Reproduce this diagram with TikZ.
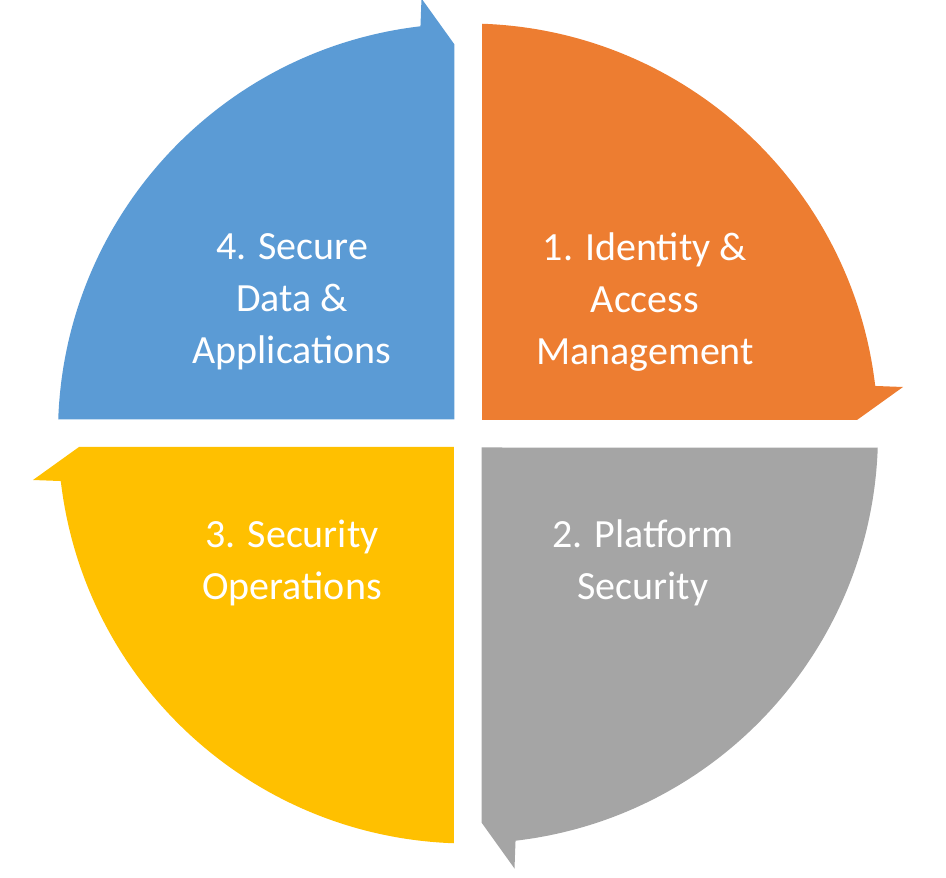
\documentclass[tikz,border=0pt]{standalone}
\usepackage{fontspec}
\setmainfont{Carlito}
\definecolor{cOrange}{HTML}{ED7D31}
\definecolor{cGrey}{HTML}{A5A5A5}
\definecolor{cYellow}{HTML}{FFC000}
\definecolor{cBlue}{HTML}{5B9BD5}
\tikzset{lbl/.style={text=white,align=center,font=\fontsize{30}{39}\selectfont}}
\newcommand{\quadarrow}[2]{%
  \begin{scope}[rotate=#1]
    \fill[#2] (14,13.5) -- (88.04:410) arc[start angle=88.04,end angle=6.66,radius=410]
      -- (435,46.5) -- (389,13.5) -- cycle;
  \end{scope}}
\begin{document}
\begin{tikzpicture}[x=0.75pt,y=0.75pt]
\useasboundingbox (-468,433.5) rectangle (478,-444.5);
\quadarrow{0}{cOrange}
\quadarrow{-90}{cGrey}
\quadarrow{-180}{cYellow}
\quadarrow{-270}{cBlue}
\node[lbl] (n1) at (177,131.5) {1. Identity \&\\Access\\Management};
\node[lbl] (n2) at (175,-129.5) {2. Platform\\Security};
\node[lbl] (n3) at (-176,-129.5) {3. Security\\Operations};
\node[lbl] (n4) at (-176,131.5) {4. Secure\\Data \&\\Applications};
\end{tikzpicture}
\end{document}
